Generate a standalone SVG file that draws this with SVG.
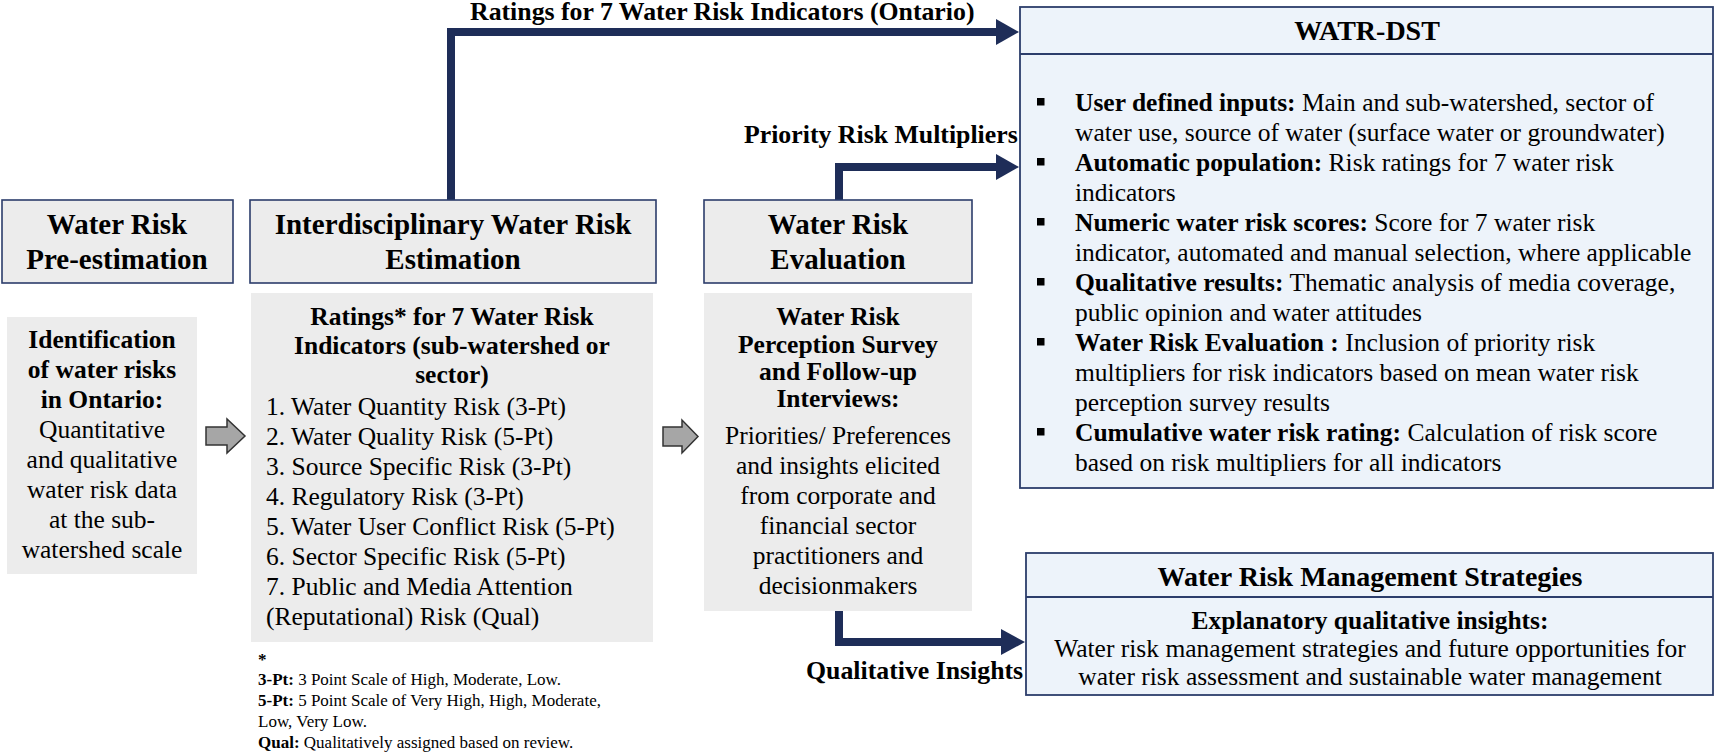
<svg xmlns="http://www.w3.org/2000/svg" width="1720" height="754" viewBox="0 0 1720 754">
<style>
text{font-family:"Liberation Serif","Times New Roman",serif;fill:#000}
.hdr{font-size:29px;font-weight:bold;text-anchor:middle}
.hdr2{font-size:28px;font-weight:bold;text-anchor:middle}
.lbl{font-size:25.8px;font-weight:bold}
.body{font-size:25.5px}
.c{text-anchor:middle}
.b{font-weight:bold}
.fn{font-size:17px}
.hbox{fill:#ececec;stroke:#2c3d6b;stroke-width:1.6}
.gbox{fill:#ececec}
.bbox{fill:#edf3fa;stroke:#2c3d6b;stroke-width:1.8}
.conn{fill:none;stroke:#1e2d58;stroke-width:8}
.head{fill:#1e2d58}
.blk{fill:#a6a6a6;stroke:#333;stroke-width:1.5}
.bul{fill:#000}
</style>

<g id="connectors">
<polyline class="conn" points="451,201 451,32 998,32"/>
<polygon class="head" points="996,19 1019,32 996,45"/>
<polyline class="conn" points="839,200 839,167 998,167"/>
<polygon class="head" points="996,154 1019,167 996,180"/>
<polyline class="conn" points="839,611 839,642 1003,642"/>
<polygon class="head" points="1001,629 1025,642 1001,655"/>
<polygon class="blk" points="206,427 227,427 227,419 245,436 227,453 227,445 206,445"/>
<polygon class="blk" points="663,427 682,427 682,420 698,436.5 682,453 682,446 663,446"/>
<text class="lbl" x="470" y="20">Ratings for 7 Water Risk Indicators (Ontario)</text>
<text class="lbl" x="744" y="143">Priority Risk Multipliers</text>
<text class="lbl" x="806" y="679">Qualitative Insights</text>
</g>

<g id="pre-estimation">
<rect class="hbox" x="2" y="200" width="231" height="83"/>
<text class="hdr" x="117" y="234">Water Risk</text>
<text class="hdr" x="117" y="269">Pre-estimation</text>
</g>

<g id="identification">
<rect class="gbox" x="7" y="317" width="190" height="257"/>
<text class="body c b" x="102" y="348">Identification</text>
<text class="body c b" x="102" y="378">of water risks</text>
<text class="body c b" x="102" y="408">in Ontario:</text>
<text class="body c" x="102" y="438">Quantitative</text>
<text class="body c" x="102" y="468">and qualitative</text>
<text class="body c" x="102" y="498">water risk data</text>
<text class="body c" x="102" y="528">at the sub-</text>
<text class="body c" x="102" y="558">watershed scale</text>
</g>

<g id="interdisciplinary">
<rect class="hbox" x="250" y="200" width="406" height="83"/>
<text class="hdr" x="453" y="234">Interdisciplinary Water Risk</text>
<text class="hdr" x="453" y="269">Estimation</text>
</g>

<g id="ratings">
<rect class="gbox" x="251" y="293" width="402" height="349"/>
<text class="body c b" x="452" y="325">Ratings* for 7 Water Risk</text>
<text class="body c b" x="452" y="354">Indicators (sub-watershed or</text>
<text class="body c b" x="452" y="383">sector)</text>
<text class="body" x="266" y="415">1. Water Quantity Risk (3-Pt)</text>
<text class="body" x="266" y="445">2. Water Quality Risk (5-Pt)</text>
<text class="body" x="266" y="475">3. Source Specific Risk (3-Pt)</text>
<text class="body" x="266" y="505">4. Regulatory Risk (3-Pt)</text>
<text class="body" x="266" y="535">5. Water User Conflict Risk (5-Pt)</text>
<text class="body" x="266" y="565">6. Sector Specific Risk (5-Pt)</text>
<text class="body" x="266" y="595">7. Public and Media Attention</text>
<text class="body" x="266" y="625">(Reputational) Risk (Qual)</text>
</g>

<g id="footnote">
<text class="fn b" x="258" y="665">*</text>
<text class="fn" x="258" y="685"><tspan class="b">3-Pt:</tspan> 3 Point Scale of High, Moderate, Low.</text>
<text class="fn" x="258" y="706"><tspan class="b">5-Pt:</tspan> 5 Point Scale of Very High, High, Moderate,</text>
<text class="fn" x="258" y="727">Low, Very Low.</text>
<text class="fn" x="258" y="748"><tspan class="b">Qual:</tspan> Qualitatively assigned based on review.</text>
</g>

<g id="evaluation">
<rect class="hbox" x="704" y="200" width="268" height="83"/>
<text class="hdr" x="838" y="234">Water Risk</text>
<text class="hdr" x="838" y="269">Evaluation</text>
</g>

<g id="survey">
<rect class="gbox" x="704" y="293" width="268" height="318"/>
<text class="body c b" x="838" y="325">Water Risk</text>
<text class="body c b" x="838" y="353">Perception Survey</text>
<text class="body c b" x="838" y="380">and Follow-up</text>
<text class="body c b" x="838" y="407">Interviews:</text>
<text class="body c" x="838" y="444">Priorities/ Preferences</text>
<text class="body c" x="838" y="474">and insights elicited</text>
<text class="body c" x="838" y="504">from corporate and</text>
<text class="body c" x="838" y="534">financial sector</text>
<text class="body c" x="838" y="564">practitioners and</text>
<text class="body c" x="838" y="594">decisionmakers</text>
</g>

<g id="watr-dst">
<rect class="bbox" x="1020" y="7" width="693" height="481"/>
<line x1="1020" y1="54" x2="1713" y2="54" stroke="#2c3d6b" stroke-width="1.8"/>
<text class="hdr2" x="1367" y="40">WATR-DST</text>
<rect class="bul" x="1037" y="98" width="7.5" height="7.5"/>
<text class="body" x="1075" y="111"><tspan class="b">User defined inputs:</tspan> Main and sub-watershed, sector of</text>
<text class="body" x="1075" y="141">water use, source of water (surface water or groundwater)</text>
<rect class="bul" x="1037" y="158" width="7.5" height="7.5"/>
<text class="body" x="1075" y="171"><tspan class="b">Automatic population:</tspan> Risk ratings for 7 water risk</text>
<text class="body" x="1075" y="201">indicators</text>
<rect class="bul" x="1037" y="218" width="7.5" height="7.5"/>
<text class="body" x="1075" y="231"><tspan class="b">Numeric water risk scores:</tspan> Score for 7 water risk</text>
<text class="body" x="1075" y="261">indicator, automated and manual selection, where applicable</text>
<rect class="bul" x="1037" y="278" width="7.5" height="7.5"/>
<text class="body" x="1075" y="291"><tspan class="b">Qualitative results:</tspan> Thematic analysis of media coverage,</text>
<text class="body" x="1075" y="321">public opinion and water attitudes</text>
<rect class="bul" x="1037" y="338" width="7.5" height="7.5"/>
<text class="body" x="1075" y="351"><tspan class="b">Water Risk Evaluation :</tspan> Inclusion of priority risk</text>
<text class="body" x="1075" y="381">multipliers for risk indicators based on mean water risk</text>
<text class="body" x="1075" y="411">perception survey results</text>
<rect class="bul" x="1037" y="428" width="7.5" height="7.5"/>
<text class="body" x="1075" y="441"><tspan class="b">Cumulative water risk rating:</tspan> Calculation of risk score</text>
<text class="body" x="1075" y="471">based on risk multipliers for all indicators</text>
</g>

<g id="management">
<rect class="bbox" x="1026" y="553" width="687" height="142"/>
<line x1="1026" y1="597" x2="1713" y2="597" stroke="#2c3d6b" stroke-width="1.8"/>
<text class="hdr2" x="1370" y="586">Water Risk Management Strategies</text>
<text class="body c b" x="1370" y="629">Explanatory qualitative insights:</text>
<text class="body c" x="1370" y="657">Water risk management strategies and future opportunities for</text>
<text class="body c" x="1370" y="685">water risk assessment and sustainable water management</text>
</g>
</svg>
